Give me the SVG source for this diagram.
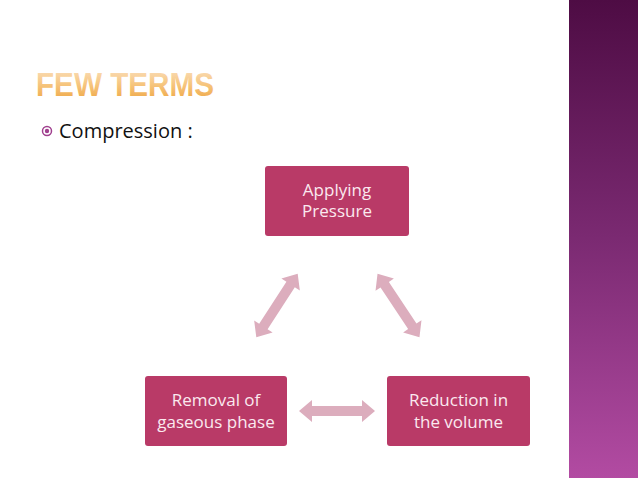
<svg xmlns="http://www.w3.org/2000/svg" width="638" height="478" viewBox="0 0 638 478">
<defs>
<linearGradient id="bar" x1="0" y1="0" x2="0" y2="1"><stop offset="0" stop-color="#4e0c44"/><stop offset="0.5" stop-color="#7b2a72"/><stop offset="1" stop-color="#b24ba2"/></linearGradient>
<linearGradient id="tg" x1="0" y1="0" x2="0" y2="1"><stop offset="0" stop-color="#fbe2c4"/><stop offset="0.5" stop-color="#f6c57e"/><stop offset="1" stop-color="#eea33d"/></linearGradient>
<polygon id="dar" points="-38,0 -25,-11 -25,-5 25,-5 25,-11 38,0 25,11 25,5 -25,5 -25,11"/>
<style>
.box{fill:#b93a67;}
.bt{font-family:"Open Sans","DejaVu Sans",sans-serif;font-size:17px;fill:#fbe9ef;text-anchor:middle;}
.ar{fill:#dcadbd;}
</style>
</defs>
<rect width="638" height="478" fill="#fff"/>
<rect x="569" y="0" width="69" height="478" fill="url(#bar)"/>
<text x="36" y="96" font-family="Liberation Sans, sans-serif" font-weight="bold" font-size="33" fill="url(#tg)" textLength="178" lengthAdjust="spacingAndGlyphs">FEW TERMS</text>
<circle cx="47" cy="131" r="4.5" fill="none" stroke="#a0408e" stroke-width="1.5"/>
<circle cx="47" cy="131" r="2.2" fill="#a0408e"/>
<text x="59" y="138" font-family="Open Sans, sans-serif" font-size="20" fill="#111">Compression :</text>
<g id="connectors">
<use href="#dar" class="ar" transform="translate(277,305.5) rotate(-57)"/>
<use href="#dar" class="ar" transform="translate(398.5,305.5) rotate(56.5)"/>
<use href="#dar" class="ar" transform="translate(337,411)"/>
</g>
<g id="n1"><rect class="box" x="265" y="166" width="144" height="70" rx="3"/><text class="bt" x="337" y="196">Applying</text><text class="bt" x="337" y="217">Pressure</text></g>
<g id="n2"><rect class="box" x="387" y="376" width="143" height="70" rx="3"/><text class="bt" x="458.5" y="406">Reduction in</text><text class="bt" x="458.5" y="428">the volume</text></g>
<g id="n3"><rect class="box" x="145" y="376" width="142" height="70" rx="3"/><text class="bt" x="216" y="406">Removal of</text><text class="bt" x="216" y="428">gaseous phase</text></g>
</svg>
